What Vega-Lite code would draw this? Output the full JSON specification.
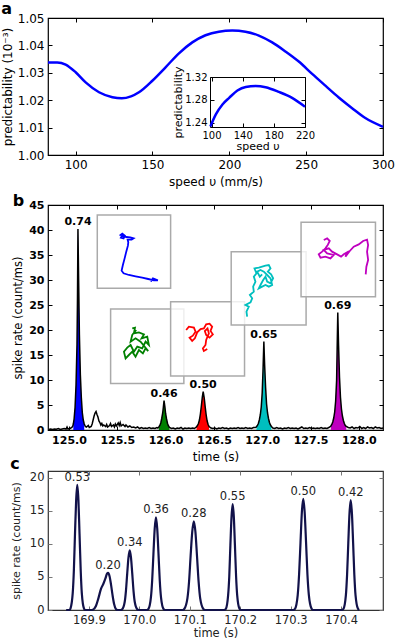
{
"$schema": "https://vega.github.io/schema/vega-lite/v6.json",
"background": "white",
"padding": 0,
"spacing": 4,
"config": {
  "font": "DejaVu Sans",
  "view": {"stroke": "black", "strokeWidth": 1.2},
  "axis": {"grid": false, "domain": false, "ticks": true, "tickColor": "black", "tickSize": -4, "tickWidth": 1, "labelPadding": 8, "labelColor": "black", "titleColor": "black", "titleFontWeight": "normal", "labelFontSize": 12, "titleFontSize": 12, "labelFlush": false, "labelOverlap": false},
  "title": {"fontSize": 16, "fontWeight": "bold", "anchor": "start", "frame": "bounds", "color": "black", "offset": 3}
},
"datasets": {
  "curveA": [
    {"speed": 82, "pred": 1.0338}, {"speed": 88, "pred": 1.0338}, {"speed": 93.5, "pred": 1.0330}, {"speed": 100, "pred": 1.0302},
    {"speed": 106.5, "pred": 1.0265}, {"speed": 115.2, "pred": 1.0229}, {"speed": 123.9, "pred": 1.0211}, {"speed": 130, "pred": 1.0207},
    {"speed": 136, "pred": 1.0214}, {"speed": 141.2, "pred": 1.0229}, {"speed": 149.9, "pred": 1.0271}, {"speed": 158.5, "pred": 1.0320},
    {"speed": 167.2, "pred": 1.0371}, {"speed": 175.9, "pred": 1.0411}, {"speed": 184.5, "pred": 1.0437}, {"speed": 193.2, "pred": 1.0450},
    {"speed": 201.9, "pred": 1.0454}, {"speed": 210.5, "pred": 1.0450}, {"speed": 219.2, "pred": 1.0436}, {"speed": 227.9, "pred": 1.0411},
    {"speed": 236.5, "pred": 1.0378}, {"speed": 245.2, "pred": 1.0341}, {"speed": 253.9, "pred": 1.0296}, {"speed": 262.5, "pred": 1.0253},
    {"speed": 271.2, "pred": 1.0210}, {"speed": 279.9, "pred": 1.0171}, {"speed": 288.5, "pred": 1.0135}, {"speed": 300, "pred": 1.0103}
  ],
  "curveInset": [
    {"speed": 98.5, "pred": 1.2335}, {"speed": 105.5, "pred": 1.2546}, {"speed": 114, "pred": 1.2720}, {"speed": 122.6, "pred": 1.2835},
    {"speed": 133.2, "pred": 1.2963}, {"speed": 143.9, "pred": 1.3026}, {"speed": 156.6, "pred": 1.3043}, {"speed": 169.4, "pred": 1.3021},
    {"speed": 186.4, "pred": 1.2939}, {"speed": 203.4, "pred": 1.2835}, {"speed": 220, "pred": 1.2680}
  ],
  "spikesB": [
    {"t":124.79,"r":0.1},{"t":124.81,"r":0.2},{"t":124.83,"r":0.1},{"t":124.85,"r":0.2},{"t":124.87,"r":0.15},{"t":124.89,"r":0.3},{"t":124.91,"r":0.1},{"t":124.93,"r":0.2},{"t":124.95,"r":0.3},{"t":124.97,"r":0.2},{"t":124.98,"r":0.6},{"t":124.99,"r":0.2},{"t":125.01,"r":0.3},{"t":125.03,"r":0.5},{"t":125.04,"r":0.8},
    {"t":125.045,"r":1.2,"cue":"c1"},{"t":125.053,"r":2.2,"cue":"c1"},{"t":125.063,"r":4.5,"cue":"c1"},{"t":125.073,"r":9,"cue":"c1"},{"t":125.083,"r":17,"cue":"c1"},{"t":125.088,"r":26,"cue":"c1"},{"t":125.093,"r":40.2,"cue":"c1"},{"t":125.1,"r":30,"cue":"c1"},{"t":125.108,"r":19,"cue":"c1"},{"t":125.118,"r":11,"cue":"c1"},{"t":125.128,"r":6.5,"cue":"c1"},{"t":125.138,"r":3.5,"cue":"c1"},{"t":125.148,"r":2.0,"cue":"c1"},{"t":125.158,"r":1.2,"cue":"c1"},
    {"t":125.17,"r":0.7},{"t":125.18,"r":0.6},{"t":125.2,"r":0.9},{"t":125.21,"r":0.5},{"t":125.23,"r":0.7},
    {"t":125.24,"r":1.2},{"t":125.25,"r":2.0},{"t":125.26,"r":2.8},{"t":125.27,"r":3.4},{"t":125.28,"r":3.7},{"t":125.29,"r":3.1},{"t":125.3,"r":2.6},{"t":125.31,"r":1.8},{"t":125.32,"r":1.5},{"t":125.33,"r":1.0},{"t":125.34,"r":1.3},{"t":125.35,"r":0.8},{"t":125.36,"r":1.0},{"t":125.38,"r":0.7},{"t":125.39,"r":1.1},{"t":125.4,"r":0.6},{"t":125.42,"r":0.9},{"t":125.43,"r":1.3},{"t":125.44,"r":0.7},{"t":125.46,"r":1.0},{"t":125.47,"r":0.6},{"t":125.48,"r":1.2},{"t":125.49,"r":0.8},{"t":125.51,"r":1.4},{"t":125.52,"r":0.9},{"t":125.53,"r":1.5},{"t":125.54,"r":0.8},{"t":125.56,"r":1.1},{"t":125.58,"r":0.7},{"t":125.59,"r":1.0},{"t":125.61,"r":0.6},{"t":125.63,"r":0.8},{"t":125.65,"r":0.5},{"t":125.67,"r":0.6},{"t":125.69,"r":0.4},{"t":125.71,"r":0.6},{"t":125.73,"r":0.3},{"t":125.75,"r":0.5},{"t":125.77,"r":0.3},{"t":125.79,"r":0.4},{"t":125.81,"r":0.3},{"t":125.83,"r":0.5},{"t":125.85,"r":0.3},{"t":125.87,"r":0.4},{"t":125.89,"r":0.3},{"t":125.91,"r":0.5},{"t":125.92,"r":0.4},
    {"t":125.93,"r":0.6,"cue":"c2"},{"t":125.94,"r":0.9,"cue":"c2"},{"t":125.95,"r":1.4,"cue":"c2"},{"t":125.96,"r":2.3,"cue":"c2"},{"t":125.97,"r":3.4,"cue":"c2"},{"t":125.977,"r":4.6,"cue":"c2"},{"t":125.984,"r":5.9,"cue":"c2"},{"t":125.993,"r":4.6,"cue":"c2"},{"t":126.0,"r":3.3,"cue":"c2"},{"t":126.01,"r":2.2,"cue":"c2"},{"t":126.02,"r":1.3,"cue":"c2"},{"t":126.03,"r":0.8,"cue":"c2"},{"t":126.04,"r":0.5,"cue":"c2"},
    {"t":126.06,"r":0.3},{"t":126.08,"r":0.4},{"t":126.1,"r":0.2},{"t":126.12,"r":0.4},{"t":126.14,"r":0.3},{"t":126.16,"r":0.5},{"t":126.18,"r":0.2},{"t":126.2,"r":0.4},{"t":126.22,"r":0.3},{"t":126.24,"r":0.4},{"t":126.26,"r":0.3},{"t":126.28,"r":0.4},{"t":126.3,"r":0.3},{"t":126.31,"r":0.5},
    {"t":126.32,"r":0.6,"cue":"c3"},{"t":126.33,"r":0.9,"cue":"c3"},{"t":126.34,"r":1.3,"cue":"c3"},{"t":126.35,"r":2.0,"cue":"c3"},{"t":126.36,"r":3.2,"cue":"c3"},{"t":126.37,"r":4.8,"cue":"c3"},{"t":126.38,"r":6.6,"cue":"c3"},{"t":126.389,"r":7.7,"cue":"c3"},{"t":126.4,"r":6.4,"cue":"c3"},{"t":126.41,"r":4.6,"cue":"c3"},{"t":126.42,"r":3.0,"cue":"c3"},{"t":126.43,"r":1.8,"cue":"c3"},{"t":126.44,"r":1.1,"cue":"c3"},{"t":126.45,"r":0.7,"cue":"c3"},
    {"t":126.47,"r":0.4},{"t":126.49,"r":0.3},{"t":126.51,"r":0.4},{"t":126.53,"r":0.2},{"t":126.55,"r":0.4},{"t":126.57,"r":0.3},{"t":126.59,"r":0.5},{"t":126.61,"r":0.3},{"t":126.63,"r":0.4},{"t":126.65,"r":0.2},{"t":126.67,"r":0.4},{"t":126.69,"r":0.3},{"t":126.71,"r":0.4},{"t":126.73,"r":0.3},{"t":126.75,"r":0.5},{"t":126.77,"r":0.3},{"t":126.79,"r":0.4},{"t":126.81,"r":0.3},{"t":126.83,"r":0.5},{"t":126.85,"r":0.3},{"t":126.87,"r":0.4},{"t":126.89,"r":0.3},{"t":126.91,"r":0.5},{"t":126.93,"r":0.5},
    {"t":126.94,"r":0.6,"cue":"c4"},{"t":126.95,"r":0.9,"cue":"c4"},{"t":126.96,"r":1.3,"cue":"c4"},{"t":126.97,"r":2.0,"cue":"c4"},{"t":126.98,"r":3.0,"cue":"c4"},{"t":126.99,"r":4.6,"cue":"c4"},{"t":127.0,"r":7.5,"cue":"c4"},{"t":127.008,"r":11.8,"cue":"c4"},{"t":127.017,"r":17.7,"cue":"c4"},{"t":127.025,"r":13,"cue":"c4"},{"t":127.035,"r":8.5,"cue":"c4"},{"t":127.045,"r":5.2,"cue":"c4"},{"t":127.055,"r":3.4,"cue":"c4"},{"t":127.065,"r":2.3,"cue":"c4"},{"t":127.075,"r":1.5,"cue":"c4"},{"t":127.085,"r":1.0,"cue":"c4"},{"t":127.095,"r":0.7,"cue":"c4"},
    {"t":127.11,"r":0.4},{"t":127.13,"r":0.3},{"t":127.15,"r":0.5},{"t":127.17,"r":0.3},{"t":127.19,"r":0.4},{"t":127.21,"r":0.2},{"t":127.23,"r":0.4},{"t":127.25,"r":0.3},{"t":127.27,"r":0.5},{"t":127.29,"r":0.3},{"t":127.31,"r":0.4},{"t":127.33,"r":0.3},{"t":127.35,"r":0.4},{"t":127.37,"r":0.2},{"t":127.39,"r":0.4},{"t":127.41,"r":0.6},{"t":127.43,"r":0.3},{"t":127.45,"r":0.4},{"t":127.47,"r":0.3},{"t":127.49,"r":0.5},{"t":127.51,"r":0.3},{"t":127.53,"r":0.4},{"t":127.55,"r":0.3},{"t":127.57,"r":0.4},{"t":127.59,"r":0.3},{"t":127.61,"r":0.5},{"t":127.63,"r":0.3},{"t":127.65,"r":0.4},{"t":127.67,"r":0.3},{"t":127.69,"r":0.5},{"t":127.7,"r":0.6},
    {"t":127.71,"r":0.8,"cue":"c5"},{"t":127.72,"r":1.1,"cue":"c5"},{"t":127.73,"r":1.6,"cue":"c5"},{"t":127.74,"r":2.4,"cue":"c5"},{"t":127.75,"r":3.6,"cue":"c5"},{"t":127.76,"r":5.8,"cue":"c5"},{"t":127.77,"r":10,"cue":"c5"},{"t":127.782,"r":23.5,"cue":"c5"},{"t":127.79,"r":17,"cue":"c5"},{"t":127.8,"r":10.5,"cue":"c5"},{"t":127.81,"r":6.5,"cue":"c5"},{"t":127.82,"r":4.2,"cue":"c5"},{"t":127.83,"r":2.8,"cue":"c5"},{"t":127.84,"r":1.9,"cue":"c5"},{"t":127.85,"r":1.3,"cue":"c5"},{"t":127.86,"r":0.9,"cue":"c5"},{"t":127.87,"r":0.7,"cue":"c5"},
    {"t":127.89,"r":0.5},{"t":127.91,"r":0.4},{"t":127.93,"r":0.6},{"t":127.95,"r":0.3},{"t":127.97,"r":0.5},{"t":127.99,"r":0.4},{"t":128.01,"r":0.7},{"t":128.03,"r":0.3},{"t":128.05,"r":0.5},{"t":128.07,"r":0.3},{"t":128.09,"r":0.6},{"t":128.11,"r":0.4},{"t":128.13,"r":0.5},{"t":128.15,"r":0.3},{"t":128.17,"r":0.6},{"t":128.19,"r":0.4},{"t":128.21,"r":0.5},{"t":128.23,"r":0.3},{"t":128.25,"r":0.4}
  ],
  "labelsB": [
    {"t":125.093,"r":40.2,"label":"0.74"},{"t":125.984,"r":5.9,"label":"0.46"},{"t":126.389,"r":7.7,"label":"0.50"},{"t":127.017,"r":17.7,"label":"0.65"},{"t":127.782,"r":23.5,"label":"0.69"}
  ],
  "boxesB": [
    {"cue":"c2","t0":125.431,"t1":126.189,"r0":9.3,"r1":24.2},
    {"cue":"c3","t0":126.052,"t1":126.817,"r0":10.8,"r1":25.67},
    {"cue":"c4","t0":126.679,"t1":127.454,"r0":21.0,"r1":35.67},
    {"cue":"c5","t0":127.402,"t1":128.172,"r0":26.67,"r1":41.53},
    {"cue":"c1","t0":125.293,"t1":126.052,"r0":28.33,"r1":43.0}
  ],
  "trajB": [
    {"cue":"c1","i":0,"t":125.524,"r":38.87},{"cue":"c1","i":1,"t":125.552,"r":39.27},{"cue":"c1","i":2,"t":125.579,"r":38.87},{"cue":"c1","i":3,"t":125.565,"r":38.33},{"cue":"c1","i":4,"t":125.538,"r":38.47},{"cue":"c1","i":5,"t":125.552,"r":38.87},{"cue":"c1","i":6,"t":125.593,"r":38.6},{"cue":"c1","i":7,"t":125.634,"r":38.53},{"cue":"c1","i":8,"t":125.669,"r":38.33},{"cue":"c1","i":9,"t":125.648,"r":38.07},{"cue":"c1","i":10,"t":125.607,"r":38.07},{"cue":"c1","i":11,"t":125.614,"r":37.53},{"cue":"c1","i":12,"t":125.61,"r":36.87},{"cue":"c1","i":13,"t":125.593,"r":35.67},{"cue":"c1","i":14,"t":125.576,"r":34.33},{"cue":"c1","i":15,"t":125.558,"r":33.0},{"cue":"c1","i":16,"t":125.545,"r":31.87},{"cue":"c1","i":17,"t":125.565,"r":31.33},{"cue":"c1","i":18,"t":125.621,"r":31.0},{"cue":"c1","i":19,"t":125.689,"r":30.73},{"cue":"c1","i":20,"t":125.758,"r":30.47},{"cue":"c1","i":21,"t":125.82,"r":30.2},{"cue":"c1","i":22,"t":125.879,"r":29.93},{"cue":"c1","i":23,"t":125.92,"r":29.93},{"cue":"c1","i":24,"t":125.869,"r":30.33},{"cue":"c1","i":25,"t":125.848,"r":29.67},
    {"cue":"c2","i":0,"t":125.655,"r":20.33},{"cue":"c2","i":1,"t":125.683,"r":20.47},{"cue":"c2","i":2,"t":125.672,"r":19.33},{"cue":"c2","i":3,"t":125.724,"r":19.53},{"cue":"c2","i":4,"t":125.776,"r":19.13},{"cue":"c2","i":5,"t":125.751,"r":18.33},{"cue":"c2","i":6,"t":125.81,"r":18.67},{"cue":"c2","i":7,"t":125.827,"r":17.0},{"cue":"c2","i":8,"t":125.793,"r":17.67},{"cue":"c2","i":9,"t":125.758,"r":16.33},{"cue":"c2","i":10,"t":125.707,"r":16.67},{"cue":"c2","i":11,"t":125.672,"r":15.67},{"cue":"c2","i":12,"t":125.638,"r":17.0},{"cue":"c2","i":13,"t":125.603,"r":16.47},{"cue":"c2","i":14,"t":125.569,"r":15.67},{"cue":"c2","i":15,"t":125.586,"r":14.33},{"cue":"c2","i":16,"t":125.62,"r":15.0},{"cue":"c2","i":17,"t":125.655,"r":15.67},{"cue":"c2","i":18,"t":125.689,"r":14.67},{"cue":"c2","i":19,"t":125.724,"r":16.0},{"cue":"c2","i":20,"t":125.765,"r":15.33},{"cue":"c2","i":21,"t":125.793,"r":16.33},{"cue":"c2","i":22,"t":125.82,"r":15.8},{"cue":"c2","i":23,"t":125.741,"r":17.67},{"cue":"c2","i":24,"t":125.689,"r":18.33},{"cue":"c2","i":25,"t":125.638,"r":17.67},{"cue":"c2","i":26,"t":125.655,"r":19.0},{"cue":"c2","i":27,"t":125.696,"r":20.0},
    {"cue":"c3","i":0,"t":126.213,"r":20.0},{"cue":"c3","i":1,"t":126.241,"r":20.67},{"cue":"c3","i":2,"t":126.293,"r":20.47},{"cue":"c3","i":3,"t":126.31,"r":19.67},{"cue":"c3","i":4,"t":126.282,"r":18.87},{"cue":"c3","i":5,"t":126.248,"r":18.47},{"cue":"c3","i":6,"t":126.275,"r":17.8},{"cue":"c3","i":7,"t":126.303,"r":18.33},{"cue":"c3","i":8,"t":126.327,"r":19.53},{"cue":"c3","i":9,"t":126.362,"r":20.2},{"cue":"c3","i":10,"t":126.396,"r":20.33},{"cue":"c3","i":11,"t":126.42,"r":21.13},{"cue":"c3","i":12,"t":126.455,"r":21.27},{"cue":"c3","i":13,"t":126.482,"r":20.67},{"cue":"c3","i":14,"t":126.465,"r":19.8},{"cue":"c3","i":15,"t":126.489,"r":19.13},{"cue":"c3","i":16,"t":126.455,"r":18.47},{"cue":"c3","i":17,"t":126.42,"r":19.0},{"cue":"c3","i":18,"t":126.406,"r":19.8},{"cue":"c3","i":19,"t":126.434,"r":20.33},{"cue":"c3","i":20,"t":126.448,"r":19.33},{"cue":"c3","i":21,"t":126.42,"r":18.0},{"cue":"c3","i":22,"t":126.413,"r":17.0},{"cue":"c3","i":23,"t":126.386,"r":16.33},{"cue":"c3","i":24,"t":126.396,"r":15.8},{"cue":"c3","i":25,"t":126.431,"r":16.2},
    {"cue":"c4","i":0,"t":126.844,"r":22.67},{"cue":"c4","i":1,"t":126.837,"r":23.67},{"cue":"c4","i":2,"t":126.861,"r":24.67},{"cue":"c4","i":3,"t":126.827,"r":25.0},{"cue":"c4","i":4,"t":126.879,"r":25.53},{"cue":"c4","i":5,"t":126.896,"r":26.33},{"cue":"c4","i":6,"t":126.872,"r":27.0},{"cue":"c4","i":7,"t":126.913,"r":27.67},{"cue":"c4","i":8,"t":126.906,"r":28.67},{"cue":"c4","i":9,"t":126.93,"r":29.67},{"cue":"c4","i":10,"t":126.913,"r":30.67},{"cue":"c4","i":11,"t":126.941,"r":31.33},{"cue":"c4","i":12,"t":126.92,"r":32.33},{"cue":"c4","i":13,"t":126.965,"r":32.47},{"cue":"c4","i":14,"t":126.999,"r":32.67},{"cue":"c4","i":15,"t":127.034,"r":32.87},{"cue":"c4","i":16,"t":127.068,"r":33.0},{"cue":"c4","i":17,"t":127.086,"r":32.33},{"cue":"c4","i":18,"t":127.058,"r":31.67},{"cue":"c4","i":19,"t":127.092,"r":31.13},{"cue":"c4","i":20,"t":127.113,"r":30.33},{"cue":"c4","i":21,"t":127.086,"r":29.33},{"cue":"c4","i":22,"t":127.051,"r":29.67},{"cue":"c4","i":23,"t":127.034,"r":30.67},{"cue":"c4","i":24,"t":127.01,"r":30.0},{"cue":"c4","i":25,"t":126.982,"r":29.0},{"cue":"c4","i":26,"t":126.965,"r":28.33},{"cue":"c4","i":27,"t":126.999,"r":28.67},{"cue":"c4","i":28,"t":127.034,"r":29.0},{"cue":"c4","i":29,"t":127.068,"r":28.67},{"cue":"c4","i":30,"t":127.103,"r":29.0},{"cue":"c4","i":31,"t":127.086,"r":30.33},{"cue":"c4","i":32,"t":127.051,"r":31.0},{"cue":"c4","i":33,"t":127.017,"r":31.67},{"cue":"c4","i":34,"t":126.982,"r":32.0},{"cue":"c4","i":35,"t":126.948,"r":31.67},{"cue":"c4","i":36,"t":126.975,"r":30.67},{"cue":"c4","i":37,"t":126.999,"r":31.13},
    {"cue":"c5","i":0,"t":127.637,"r":38.0},{"cue":"c5","i":1,"t":127.672,"r":38.33},{"cue":"c5","i":2,"t":127.699,"r":37.8},{"cue":"c5","i":3,"t":127.678,"r":37.0},{"cue":"c5","i":4,"t":127.654,"r":36.33},{"cue":"c5","i":5,"t":127.62,"r":35.67},{"cue":"c5","i":6,"t":127.585,"r":35.13},{"cue":"c5","i":7,"t":127.603,"r":34.47},{"cue":"c5","i":8,"t":127.654,"r":34.67},{"cue":"c5","i":9,"t":127.706,"r":34.33},{"cue":"c5","i":10,"t":127.74,"r":35.0},{"cue":"c5","i":11,"t":127.672,"r":35.33},{"cue":"c5","i":12,"t":127.637,"r":36.0},{"cue":"c5","i":13,"t":127.689,"r":36.33},{"cue":"c5","i":14,"t":127.723,"r":35.67},{"cue":"c5","i":15,"t":127.775,"r":35.13},{"cue":"c5","i":16,"t":127.816,"r":34.67},{"cue":"c5","i":17,"t":127.844,"r":35.13},{"cue":"c5","i":18,"t":127.878,"r":35.53},{"cue":"c5","i":19,"t":127.861,"r":34.67},{"cue":"c5","i":20,"t":127.906,"r":35.8},{"cue":"c5","i":21,"t":127.947,"r":36.67},{"cue":"c5","i":22,"t":127.999,"r":37.13},{"cue":"c5","i":23,"t":128.044,"r":37.8},{"cue":"c5","i":24,"t":128.085,"r":38.07},{"cue":"c5","i":25,"t":128.096,"r":37.0},{"cue":"c5","i":26,"t":128.085,"r":35.67},{"cue":"c5","i":27,"t":128.096,"r":34.0},{"cue":"c5","i":28,"t":128.078,"r":32.67},{"cue":"c5","i":29,"t":128.071,"r":31.13}
  ],
  "spikesC": [
    {"t":169.855,"r":0},{"t":169.862,"r":0},
    {"t":169.8635,"r":0.2},{"t":169.868,"r":2.55},{"t":169.8703,"r":6.05},{"t":169.8725,"r":11.5},{"t":169.8748,"r":16.6},{"t":169.877,"r":18.9},{"t":169.8793,"r":16.6},{"t":169.8815,"r":11.5},{"t":169.8838,"r":6.05},{"t":169.886,"r":2.55},{"t":169.8905,"r":0.2},{"t":169.893,"r":0},
    {"t":169.905,"r":0},{"t":169.908,"r":0.05},{"t":169.914,"r":0.6},{"t":169.919,"r":1.8},{"t":169.924,"r":3.2},{"t":169.929,"r":4.0},{"t":169.933,"r":4.8},{"t":169.936,"r":5.5},{"t":169.938,"r":5.6},{"t":169.941,"r":5.1},{"t":169.944,"r":3.8},{"t":169.947,"r":2.2},{"t":169.95,"r":0.9},{"t":169.954,"r":0.1},{"t":169.957,"r":0},
    {"t":169.963,"r":0},{"t":169.966,"r":0.1},{"t":169.971,"r":1.2},{"t":169.9735,"r":2.9},{"t":169.976,"r":5.5},{"t":169.9785,"r":7.9},{"t":169.981,"r":9.0},{"t":169.9835,"r":7.9},{"t":169.986,"r":5.5},{"t":169.9885,"r":2.9},{"t":169.991,"r":1.2},{"t":169.996,"r":0.1},{"t":169.999,"r":0},
    {"t":170.015,"r":0},{"t":170.018,"r":0.15},{"t":170.023,"r":1.9},{"t":170.0255,"r":4.5},{"t":170.028,"r":8.5},{"t":170.0305,"r":12.3},{"t":170.033,"r":14.0},{"t":170.0355,"r":12.3},{"t":170.038,"r":8.5},{"t":170.0405,"r":4.5},{"t":170.043,"r":1.9},{"t":170.048,"r":0.15},{"t":170.051,"r":0},
    {"t":170.086,"r":0},{"t":170.089,"r":0.15},{"t":170.0954,"r":1.8},{"t":170.0986,"r":4.3},{"t":170.1017,"r":8.2},{"t":170.1049,"r":11.8},{"t":170.108,"r":13.4},{"t":170.1112,"r":11.8},{"t":170.1143,"r":8.2},{"t":170.1175,"r":4.3},{"t":170.1206,"r":1.8},{"t":170.127,"r":0.15},{"t":170.13,"r":0},
    {"t":170.168,"r":0},{"t":170.1715,"r":0.18},{"t":170.176,"r":2.2},{"t":170.1783,"r":5.1},{"t":170.1805,"r":9.8},{"t":170.1828,"r":14.1},{"t":170.185,"r":16.0},{"t":170.1873,"r":14.1},{"t":170.1895,"r":9.8},{"t":170.1918,"r":5.1},{"t":170.194,"r":2.2},{"t":170.1985,"r":0.18},{"t":170.201,"r":0},
    {"t":170.305,"r":0},{"t":170.3085,"r":0.18},{"t":170.314,"r":2.3},{"t":170.3167,"r":5.4},{"t":170.3195,"r":10.2},{"t":170.3222,"r":14.8},{"t":170.325,"r":16.8},{"t":170.3277,"r":14.8},{"t":170.3305,"r":10.2},{"t":170.3332,"r":5.4},{"t":170.336,"r":2.3},{"t":170.3415,"r":0.18},{"t":170.344,"r":0},
    {"t":170.401,"r":0},{"t":170.4046,"r":0.18},{"t":170.4094,"r":2.2},{"t":170.4118,"r":5.3},{"t":170.4142,"r":10.1},{"t":170.4166,"r":14.6},{"t":170.419,"r":16.6},{"t":170.4214,"r":14.6},{"t":170.4238,"r":10.1},{"t":170.4262,"r":5.3},{"t":170.4286,"r":2.2},{"t":170.4334,"r":0.18},{"t":170.436,"r":0}
  ],
  "labelsC": [
    {"t":169.877,"r":18.9,"label":"0.53"},{"t":169.938,"r":5.6,"label":"0.20"},{"t":169.981,"r":9.0,"label":"0.34"},{"t":170.033,"r":14.0,"label":"0.36"},{"t":170.108,"r":13.4,"label":"0.28"},{"t":170.185,"r":16.0,"label":"0.55"},{"t":170.325,"r":16.8,"label":"0.50"},{"t":170.419,"r":16.6,"label":"0.42"}
  ]
},
"vconcat": [
  {
    "width": 335, "height": 137,
    "title": {"text": "a", "offset": -5},
    "layer": [
      {"layer": [
        {"data": {"name": "curveA"}, "mark": {"type": "line", "color": "#0000ff", "strokeWidth": 2.5, "interpolate": "monotone"},
         "encoding": {
           "x": {"field": "speed", "type": "quantitative", "scale": {"domain": [82, 300], "nice": false, "zero": false}, "axis": {"orient": "bottom", "values": [100, 150, 200, 250, 300], "title": "speed υ (mm/s)", "titlePadding": 6}},
           "y": {"field": "pred", "type": "quantitative", "scale": {"domain": [1.0, 1.05], "nice": false, "zero": false}, "axis": {"orient": "left", "values": [1.0, 1.01, 1.02, 1.03, 1.04, 1.05], "format": ".2f", "title": "predictability (10⁻³)", "titlePadding": 3}}
         }},
        {"data": {"name": "curveA"}, "mark": {"type": "line", "strokeOpacity": 0},
         "encoding": {
           "x": {"field": "speed", "type": "quantitative", "scale": {"domain": [82, 300], "nice": false, "zero": false}, "axis": {"orient": "top", "values": [100, 150, 200, 250, 300], "labels": false, "title": null}},
           "y": {"field": "pred", "type": "quantitative", "scale": {"domain": [1.0, 1.05], "nice": false, "zero": false}, "axis": {"orient": "right", "values": [1.0, 1.01, 1.02, 1.03, 1.04, 1.05], "labels": false, "title": null}}
         }}
      ]},
      {"layer": [
        {"data": {"name": "curveInset"}, "mark": {"type": "line", "color": "#0000ff", "strokeWidth": 2.5, "interpolate": "monotone"},
         "encoding": {
           "x": {"field": "speed", "type": "quantitative", "scale": {"domain": [98, 220], "range": [162, 257], "nice": false, "zero": false}, "axis": {"orient": "bottom", "offset": -28, "values": [100, 140, 180, 220], "title": "speed υ", "domain": true, "domainColor": "black", "labelFontSize": 10, "titleFontSize": 11, "titlePadding": 0, "labelPadding": 7}},
           "y": {"field": "pred", "type": "quantitative", "scale": {"domain": [1.2325, 1.32], "range": [109, 59], "nice": false, "zero": false}, "axis": {"orient": "left", "offset": -162, "values": [1.24, 1.28, 1.32], "format": ".2f", "title": "predictability", "domain": true, "domainColor": "black", "labelFontSize": 10, "titleFontSize": 11, "titlePadding": 1, "labelPadding": 7}}
         }},
        {"data": {"name": "curveInset"}, "mark": {"type": "line", "strokeOpacity": 0},
         "encoding": {
           "x": {"field": "speed", "type": "quantitative", "scale": {"domain": [98, 220], "range": [162, 257], "nice": false, "zero": false}, "axis": {"orient": "top", "offset": -59, "values": [100, 140, 180, 220], "labels": false, "title": null, "domain": true, "domainColor": "black"}},
           "y": {"field": "pred", "type": "quantitative", "scale": {"domain": [1.2325, 1.32], "range": [109, 59], "nice": false, "zero": false}, "axis": {"orient": "right", "offset": -78, "values": [1.24, 1.28, 1.32], "labels": false, "title": null, "domain": true, "domainColor": "black"}}
         }}
      ]}
    ],
    "resolve": {"scale": {"x": "independent", "y": "independent"}}
  },
  {
    "spacing": -10,
    "vconcat": [
      {
        "width": 335, "height": 225,
        "title": {"text": "b", "offset": -10},
        "layer": [
          {"data": {"name": "spikesB"}, "transform": [{"filter": "isValid(datum.cue)"}],
           "mark": {"type": "area", "opacity": 1},
           "encoding": {
             "x": {"field": "t", "type": "quantitative", "scale": {"domain": [124.783, 128.25], "nice": false, "zero": false}, "axis": {"orient": "top", "values": [125, 125.5, 126, 126.5, 127, 127.5, 128], "labels": false, "title": null}},
             "y": {"field": "r", "type": "quantitative", "stack": null, "scale": {"domain": [0, 45], "nice": false}, "axis": {"orient": "right", "values": [0, 5, 10, 15, 20, 25, 30, 35, 40, 45], "labels": false, "title": null}},
             "color": {"field": "cue", "type": "nominal", "scale": {"domain": ["c1", "c2", "c3", "c4", "c5"], "range": ["#0000ff", "#008000", "#ff0000", "#00bfbf", "#bf00bf"]}, "legend": null}
           }},
          {"data": {"name": "spikesB"}, "mark": {"type": "line", "color": "black", "strokeWidth": 1.5},
           "encoding": {
             "x": {"field": "t", "type": "quantitative", "axis": {"orient": "bottom", "values": [125, 125.5, 126, 126.5, 127, 127.5, 128], "format": ".1f", "title": "time (s)", "labelFontWeight": "bold", "labelFontSize": 11, "titleFontSize": 12, "titlePadding": 6.5}},
             "y": {"field": "r", "type": "quantitative", "axis": {"orient": "left", "values": [0, 5, 10, 15, 20, 25, 30, 35, 40, 45], "title": "spike rate (count/ms)", "labelFontWeight": "bold", "labelFontSize": 11, "titleFontSize": 11.5, "titlePadding": 5}}
           }},
          {"data": {"name": "boxesB"}, "mark": {"type": "rect", "fill": "white", "fillOpacity": 0.8, "stroke": "#aaaaaa", "strokeWidth": 1.5},
           "encoding": {
             "x": {"field": "t0", "type": "quantitative", "axis": null},
             "x2": {"field": "t1"},
             "y": {"field": "r0", "type": "quantitative", "axis": null},
             "y2": {"field": "r1"}
           }},
          {"data": {"name": "trajB"}, "mark": {"type": "line", "strokeWidth": 1.8},
           "encoding": {
             "x": {"field": "t", "type": "quantitative", "axis": null},
             "y": {"field": "r", "type": "quantitative", "axis": null},
             "color": {"field": "cue", "type": "nominal", "legend": null},
             "order": {"field": "i", "type": "quantitative"}
           }},
          {"data": {"name": "labelsB"}, "mark": {"type": "text", "fontWeight": "bold", "fontSize": 11, "baseline": "bottom", "dy": -2, "color": "black"},
           "encoding": {
             "x": {"field": "t", "type": "quantitative", "axis": null},
             "y": {"field": "r", "type": "quantitative", "axis": null},
             "text": {"field": "label"}
           }}
        ]
      },
      {
        "width": 335, "height": 139,
        "title": {"text": "c", "offset": -1},
        "view": {"stroke": "#333333"},
        "layer": [
          {"data": {"name": "spikesC"}, "mark": {"type": "line", "color": "#12124a", "strokeWidth": 2.2, "interpolate": "monotone"},
           "encoding": {
             "x": {"field": "t", "type": "quantitative", "scale": {"domain": [169.819, 170.483], "nice": false, "zero": false}, "axis": {"orient": "bottom", "values": [169.9, 170.0, 170.1, 170.2, 170.3, 170.4], "format": ".1f", "title": "time (s)", "labelColor": "#222222", "titleColor": "#222222", "tickColor": "#777777", "labelFontSize": 11.5, "titleFontSize": 11.5, "titlePadding": 2}},
             "y": {"field": "r", "type": "quantitative", "scale": {"domain": [0, 21], "nice": false}, "axis": {"orient": "left", "values": [0, 5, 10, 15, 20], "title": "spike rate (count/ms)", "labelColor": "#222222", "titleColor": "#222222", "tickColor": "#777777", "labelFontSize": 11.5, "titleFontSize": 11, "titlePadding": 8}}
           }},
          {"data": {"name": "spikesC"}, "mark": {"type": "line", "strokeOpacity": 0},
           "encoding": {
             "x": {"field": "t", "type": "quantitative", "axis": {"orient": "top", "values": [169.9, 170.0, 170.1, 170.2, 170.3, 170.4], "labels": false, "title": null, "tickColor": "#777777"}},
             "y": {"field": "r", "type": "quantitative", "axis": {"orient": "right", "values": [0, 5, 10, 15, 20], "labels": false, "title": null, "tickColor": "#777777"}}
           }},
          {"data": {"name": "labelsC"}, "mark": {"type": "text", "fontSize": 11.5, "baseline": "bottom", "dy": -2, "color": "#222222"},
           "encoding": {
             "x": {"field": "t", "type": "quantitative", "axis": null},
             "y": {"field": "r", "type": "quantitative", "axis": null},
             "text": {"field": "label"}
           }}
        ]
      }
    ]
  }
]
}
